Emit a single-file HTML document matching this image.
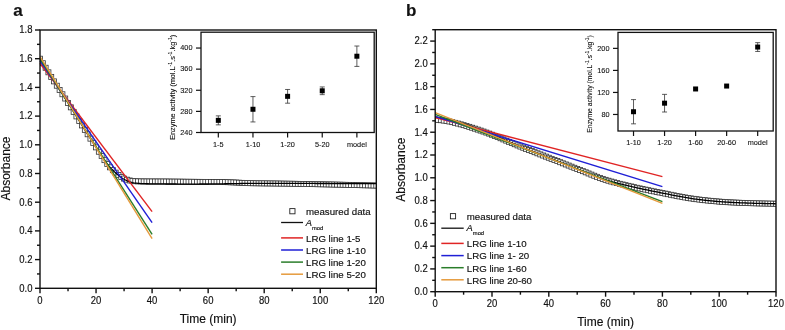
<!DOCTYPE html><html><head><meta charset="utf-8"><style>html,body{margin:0;padding:0;background:#fff;width:785px;height:330px;overflow:hidden;}svg{display:block;font-family:"Liberation Sans",sans-serif;filter:blur(0.35px);}</style></head><body><svg width="785" height="330" viewBox="0 0 785 330" font-family='"Liberation Sans", sans-serif' fill="#111">
<style>text{stroke:#111;stroke-width:0.16px;} .sm text{stroke-width:0.1px;}</style>
<rect width="785" height="330" fill="#fff"/>
<clipPath id="clipa"><rect x="40.00" y="30.00" width="336.30" height="258.30"/></clipPath>
<g clip-path="url(#clipa)">
<g fill="#fff" stroke="#333" stroke-width="0.8"><rect x="37.50" y="56.20" width="5.0" height="5.0"/><rect x="40.30" y="60.72" width="5.0" height="5.0"/><rect x="43.11" y="65.24" width="5.0" height="5.0"/><rect x="45.91" y="69.81" width="5.0" height="5.0"/><rect x="48.71" y="74.39" width="5.0" height="5.0"/><rect x="51.51" y="78.87" width="5.0" height="5.0"/><rect x="54.31" y="83.22" width="5.0" height="5.0"/><rect x="57.12" y="87.50" width="5.0" height="5.0"/><rect x="59.92" y="91.76" width="5.0" height="5.0"/><rect x="62.72" y="96.04" width="5.0" height="5.0"/><rect x="65.53" y="100.40" width="5.0" height="5.0"/><rect x="68.33" y="104.85" width="5.0" height="5.0"/><rect x="71.13" y="109.37" width="5.0" height="5.0"/><rect x="73.93" y="113.91" width="5.0" height="5.0"/><rect x="76.73" y="118.44" width="5.0" height="5.0"/><rect x="79.54" y="122.93" width="5.0" height="5.0"/><rect x="82.34" y="127.36" width="5.0" height="5.0"/><rect x="85.14" y="131.78" width="5.0" height="5.0"/><rect x="87.95" y="136.16" width="5.0" height="5.0"/><rect x="90.75" y="140.53" width="5.0" height="5.0"/><rect x="93.55" y="144.88" width="5.0" height="5.0"/><rect x="96.35" y="149.24" width="5.0" height="5.0"/><rect x="99.16" y="153.53" width="5.0" height="5.0"/><rect x="101.96" y="157.65" width="5.0" height="5.0"/><rect x="104.76" y="161.46" width="5.0" height="5.0"/><rect x="107.56" y="164.83" width="5.0" height="5.0"/><rect x="110.37" y="167.65" width="5.0" height="5.0"/><rect x="113.17" y="170.14" width="5.0" height="5.0"/><rect x="115.97" y="172.53" width="5.0" height="5.0"/><rect x="118.77" y="174.59" width="5.0" height="5.0"/><rect x="121.58" y="176.08" width="5.0" height="5.0"/><rect x="124.38" y="177.17" width="5.0" height="5.0"/><rect x="127.18" y="177.97" width="5.0" height="5.0"/><rect x="129.98" y="178.46" width="5.0" height="5.0"/><rect x="132.79" y="178.72" width="5.0" height="5.0"/><rect x="135.59" y="178.84" width="5.0" height="5.0"/><rect x="138.39" y="178.89" width="5.0" height="5.0"/><rect x="141.19" y="178.93" width="5.0" height="5.0"/><rect x="144.00" y="178.96" width="5.0" height="5.0"/><rect x="146.80" y="178.98" width="5.0" height="5.0"/><rect x="149.60" y="178.99" width="5.0" height="5.0"/><rect x="152.40" y="179.00" width="5.0" height="5.0"/><rect x="155.20" y="179.00" width="5.0" height="5.0"/><rect x="158.01" y="179.01" width="5.0" height="5.0"/><rect x="160.81" y="179.02" width="5.0" height="5.0"/><rect x="163.61" y="179.04" width="5.0" height="5.0"/><rect x="166.42" y="179.06" width="5.0" height="5.0"/><rect x="169.22" y="179.09" width="5.0" height="5.0"/><rect x="172.02" y="179.11" width="5.0" height="5.0"/><rect x="174.82" y="179.14" width="5.0" height="5.0"/><rect x="177.62" y="179.17" width="5.0" height="5.0"/><rect x="180.43" y="179.20" width="5.0" height="5.0"/><rect x="183.23" y="179.24" width="5.0" height="5.0"/><rect x="186.03" y="179.27" width="5.0" height="5.0"/><rect x="188.84" y="179.29" width="5.0" height="5.0"/><rect x="191.64" y="179.32" width="5.0" height="5.0"/><rect x="194.44" y="179.35" width="5.0" height="5.0"/><rect x="197.24" y="179.37" width="5.0" height="5.0"/><rect x="200.05" y="179.39" width="5.0" height="5.0"/><rect x="202.85" y="179.41" width="5.0" height="5.0"/><rect x="205.65" y="179.43" width="5.0" height="5.0"/><rect x="208.45" y="179.45" width="5.0" height="5.0"/><rect x="211.26" y="179.47" width="5.0" height="5.0"/><rect x="214.06" y="179.50" width="5.0" height="5.0"/><rect x="216.86" y="179.53" width="5.0" height="5.0"/><rect x="219.66" y="179.57" width="5.0" height="5.0"/><rect x="222.47" y="179.61" width="5.0" height="5.0"/><rect x="225.27" y="179.68" width="5.0" height="5.0"/><rect x="228.07" y="179.79" width="5.0" height="5.0"/><rect x="230.87" y="179.91" width="5.0" height="5.0"/><rect x="233.68" y="180.04" width="5.0" height="5.0"/><rect x="236.48" y="180.19" width="5.0" height="5.0"/><rect x="239.28" y="180.36" width="5.0" height="5.0"/><rect x="242.08" y="180.51" width="5.0" height="5.0"/><rect x="244.89" y="180.61" width="5.0" height="5.0"/><rect x="247.69" y="180.68" width="5.0" height="5.0"/><rect x="250.49" y="180.73" width="5.0" height="5.0"/><rect x="253.29" y="180.77" width="5.0" height="5.0"/><rect x="256.10" y="180.81" width="5.0" height="5.0"/><rect x="258.90" y="180.85" width="5.0" height="5.0"/><rect x="261.70" y="180.88" width="5.0" height="5.0"/><rect x="264.50" y="180.91" width="5.0" height="5.0"/><rect x="267.31" y="180.94" width="5.0" height="5.0"/><rect x="270.11" y="180.97" width="5.0" height="5.0"/><rect x="272.91" y="181.00" width="5.0" height="5.0"/><rect x="275.71" y="181.05" width="5.0" height="5.0"/><rect x="278.51" y="181.09" width="5.0" height="5.0"/><rect x="281.32" y="181.13" width="5.0" height="5.0"/><rect x="284.12" y="181.18" width="5.0" height="5.0"/><rect x="286.92" y="181.22" width="5.0" height="5.0"/><rect x="289.73" y="181.27" width="5.0" height="5.0"/><rect x="292.53" y="181.31" width="5.0" height="5.0"/><rect x="295.33" y="181.36" width="5.0" height="5.0"/><rect x="298.13" y="181.40" width="5.0" height="5.0"/><rect x="300.94" y="181.45" width="5.0" height="5.0"/><rect x="303.74" y="181.50" width="5.0" height="5.0"/><rect x="306.54" y="181.55" width="5.0" height="5.0"/><rect x="309.34" y="181.60" width="5.0" height="5.0"/><rect x="312.15" y="181.65" width="5.0" height="5.0"/><rect x="314.95" y="181.71" width="5.0" height="5.0"/><rect x="317.75" y="181.76" width="5.0" height="5.0"/><rect x="320.55" y="181.82" width="5.0" height="5.0"/><rect x="323.35" y="181.88" width="5.0" height="5.0"/><rect x="326.16" y="181.94" width="5.0" height="5.0"/><rect x="328.96" y="182.00" width="5.0" height="5.0"/><rect x="331.76" y="182.07" width="5.0" height="5.0"/><rect x="334.56" y="182.13" width="5.0" height="5.0"/><rect x="337.37" y="182.19" width="5.0" height="5.0"/><rect x="340.17" y="182.26" width="5.0" height="5.0"/><rect x="342.97" y="182.32" width="5.0" height="5.0"/><rect x="345.77" y="182.39" width="5.0" height="5.0"/><rect x="348.58" y="182.46" width="5.0" height="5.0"/><rect x="351.38" y="182.52" width="5.0" height="5.0"/><rect x="354.18" y="182.59" width="5.0" height="5.0"/><rect x="356.99" y="182.66" width="5.0" height="5.0"/><rect x="359.79" y="182.72" width="5.0" height="5.0"/><rect x="362.59" y="182.79" width="5.0" height="5.0"/><rect x="365.39" y="182.86" width="5.0" height="5.0"/><rect x="368.19" y="182.92" width="5.0" height="5.0"/><rect x="371.00" y="182.99" width="5.0" height="5.0"/><rect x="373.80" y="183.05" width="5.0" height="5.0"/></g>
<polyline points="40.00,58.70 41.40,60.96 42.80,63.22 44.20,65.48 45.61,67.74 47.01,70.02 48.41,72.31 49.81,74.61 51.21,76.89 52.61,79.15 54.01,81.37 55.41,83.56 56.81,85.72 58.22,87.86 59.62,90.00 61.02,92.13 62.42,94.26 63.82,96.39 65.22,98.54 66.62,100.71 68.03,102.90 69.43,105.11 70.83,107.35 72.23,109.60 73.63,111.87 75.03,114.14 76.43,116.41 77.83,118.68 79.23,120.94 80.64,123.19 82.04,125.43 83.44,127.65 84.84,129.86 86.24,132.07 87.64,134.28 89.04,136.47 90.45,138.66 91.85,140.85 93.25,143.03 94.65,145.21 96.05,147.38 97.45,149.56 98.85,151.74 100.25,153.90 101.66,156.03 103.06,158.12 104.46,160.15 105.86,162.10 107.26,163.94 108.66,165.68 110.06,167.33 111.46,168.86 112.87,170.29 114.27,171.63 115.67,172.93 117.07,174.18 118.47,175.37 119.87,176.49 121.27,177.52 122.67,178.44 124.08,179.27 125.48,180.01 126.88,180.68 128.28,181.27 129.68,181.78 131.08,182.21 132.48,182.54 133.88,182.81 135.29,183.03 136.69,183.21 138.09,183.36 139.49,183.47 140.89,183.55 142.29,183.60 143.69,183.65 145.09,183.70 146.50,183.74 147.90,183.77 149.30,183.80 150.70,183.83 152.10,183.85 153.50,183.87 154.90,183.89 156.30,183.91 157.70,183.92 159.11,183.93 160.51,183.94 161.91,183.95 163.31,183.96 164.71,183.97 166.11,183.98 167.51,183.98 168.92,183.99 170.32,184.00 171.72,184.01 173.12,184.01 174.52,184.02 175.92,184.02 177.32,184.03 178.72,184.03 180.12,184.04 181.53,184.04 182.93,184.04 184.33,184.04 185.73,184.04 187.13,184.05 188.53,184.04 189.93,184.04 191.34,184.04 192.74,184.04 194.14,184.04 195.54,184.03 196.94,184.03 198.34,184.03 199.74,184.02 201.14,184.01 202.55,184.01 203.95,184.00 205.35,183.99 206.75,183.98 208.15,183.98 209.55,183.96 210.95,183.95 212.35,183.94 213.76,183.92 215.16,183.91 216.56,183.89 217.96,183.87 219.36,183.85 220.76,183.83 222.16,183.81 223.56,183.78 224.97,183.76 226.37,183.74 227.77,183.71 229.17,183.69 230.57,183.66 231.97,183.64 233.37,183.62 234.77,183.59 236.18,183.57 237.58,183.55 238.98,183.53 240.38,183.51 241.78,183.49 243.18,183.47 244.58,183.45 245.98,183.44 247.39,183.42 248.79,183.41 250.19,183.40 251.59,183.39 252.99,183.38 254.39,183.38 255.79,183.37 257.19,183.37 258.60,183.36 260.00,183.36 261.40,183.36 262.80,183.35 264.20,183.35 265.60,183.35 267.00,183.35 268.40,183.35 269.81,183.36 271.21,183.36 272.61,183.36 274.01,183.36 275.41,183.36 276.81,183.37 278.21,183.37 279.61,183.37 281.01,183.38 282.42,183.38 283.82,183.38 285.22,183.39 286.62,183.39 288.02,183.39 289.42,183.40 290.82,183.40 292.23,183.40 293.63,183.40 295.03,183.41 296.43,183.41 297.83,183.41 299.23,183.42 300.63,183.42 302.03,183.43 303.44,183.43 304.84,183.43 306.24,183.44 307.64,183.44 309.04,183.45 310.44,183.45 311.84,183.46 313.24,183.46 314.65,183.47 316.05,183.48 317.45,183.48 318.85,183.49 320.25,183.49 321.65,183.50 323.05,183.50 324.45,183.51 325.85,183.51 327.26,183.52 328.66,183.52 330.06,183.53 331.46,183.54 332.86,183.54 334.26,183.55 335.66,183.55 337.06,183.55 338.47,183.56 339.87,183.56 341.27,183.57 342.67,183.57 344.07,183.58 345.47,183.58 346.87,183.59 348.27,183.59 349.68,183.60 351.08,183.60 352.48,183.61 353.88,183.61 355.28,183.62 356.68,183.62 358.08,183.63 359.49,183.63 360.89,183.64 362.29,183.64 363.69,183.65 365.09,183.65 366.49,183.66 367.89,183.66 369.29,183.66 370.69,183.67 372.10,183.67 373.50,183.68 374.90,183.68 376.30,183.69" fill="none" stroke="#000" stroke-width="1.3"/>
</g>
<line x1="40.00" y1="63.29" x2="152.10" y2="211.67" stroke="#e02424" stroke-width="1.4"/>
<line x1="40.00" y1="60.85" x2="152.10" y2="222.72" stroke="#1f1fd6" stroke-width="1.4"/>
<line x1="40.00" y1="58.70" x2="152.10" y2="234.49" stroke="#2a7d2a" stroke-width="1.4"/>
<line x1="40.00" y1="56.55" x2="152.10" y2="238.51" stroke="#e59a3c" stroke-width="1.4"/>
<rect x="40.00" y="30.00" width="336.30" height="258.30" fill="none" stroke="#111" stroke-width="1.4"/>
<line x1="35.00" y1="288.30" x2="40.00" y2="288.30" stroke="#111" stroke-width="1.4"/>
<text transform="translate(32.50,291.60) scale(0.95,1)" font-size="10.0" text-anchor="end" >0.0</text>
<line x1="37.00" y1="273.95" x2="40.00" y2="273.95" stroke="#111" stroke-width="1.4"/>
<line x1="35.00" y1="259.60" x2="40.00" y2="259.60" stroke="#111" stroke-width="1.4"/>
<text transform="translate(32.50,262.90) scale(0.95,1)" font-size="10.0" text-anchor="end" >0.2</text>
<line x1="37.00" y1="245.25" x2="40.00" y2="245.25" stroke="#111" stroke-width="1.4"/>
<line x1="35.00" y1="230.90" x2="40.00" y2="230.90" stroke="#111" stroke-width="1.4"/>
<text transform="translate(32.50,234.20) scale(0.95,1)" font-size="10.0" text-anchor="end" >0.4</text>
<line x1="37.00" y1="216.55" x2="40.00" y2="216.55" stroke="#111" stroke-width="1.4"/>
<line x1="35.00" y1="202.20" x2="40.00" y2="202.20" stroke="#111" stroke-width="1.4"/>
<text transform="translate(32.50,205.50) scale(0.95,1)" font-size="10.0" text-anchor="end" >0.6</text>
<line x1="37.00" y1="187.85" x2="40.00" y2="187.85" stroke="#111" stroke-width="1.4"/>
<line x1="35.00" y1="173.50" x2="40.00" y2="173.50" stroke="#111" stroke-width="1.4"/>
<text transform="translate(32.50,176.80) scale(0.95,1)" font-size="10.0" text-anchor="end" >0.8</text>
<line x1="37.00" y1="159.15" x2="40.00" y2="159.15" stroke="#111" stroke-width="1.4"/>
<line x1="35.00" y1="144.80" x2="40.00" y2="144.80" stroke="#111" stroke-width="1.4"/>
<text transform="translate(32.50,148.10) scale(0.95,1)" font-size="10.0" text-anchor="end" >1.0</text>
<line x1="37.00" y1="130.45" x2="40.00" y2="130.45" stroke="#111" stroke-width="1.4"/>
<line x1="35.00" y1="116.10" x2="40.00" y2="116.10" stroke="#111" stroke-width="1.4"/>
<text transform="translate(32.50,119.40) scale(0.95,1)" font-size="10.0" text-anchor="end" >1.2</text>
<line x1="37.00" y1="101.75" x2="40.00" y2="101.75" stroke="#111" stroke-width="1.4"/>
<line x1="35.00" y1="87.40" x2="40.00" y2="87.40" stroke="#111" stroke-width="1.4"/>
<text transform="translate(32.50,90.70) scale(0.95,1)" font-size="10.0" text-anchor="end" >1.4</text>
<line x1="37.00" y1="73.05" x2="40.00" y2="73.05" stroke="#111" stroke-width="1.4"/>
<line x1="35.00" y1="58.70" x2="40.00" y2="58.70" stroke="#111" stroke-width="1.4"/>
<text transform="translate(32.50,62.00) scale(0.95,1)" font-size="10.0" text-anchor="end" >1.6</text>
<line x1="37.00" y1="44.35" x2="40.00" y2="44.35" stroke="#111" stroke-width="1.4"/>
<line x1="35.00" y1="30.00" x2="40.00" y2="30.00" stroke="#111" stroke-width="1.4"/>
<text transform="translate(32.50,33.30) scale(0.95,1)" font-size="10.0" text-anchor="end" >1.8</text>
<line x1="40.00" y1="288.30" x2="40.00" y2="293.30" stroke="#111" stroke-width="1.4"/>
<text transform="translate(40.00,303.80) scale(0.95,1)" font-size="10.0" text-anchor="middle" >0</text>
<line x1="68.03" y1="288.30" x2="68.03" y2="291.30" stroke="#111" stroke-width="1.4"/>
<line x1="96.05" y1="288.30" x2="96.05" y2="293.30" stroke="#111" stroke-width="1.4"/>
<text transform="translate(96.05,303.80) scale(0.95,1)" font-size="10.0" text-anchor="middle" >20</text>
<line x1="124.08" y1="288.30" x2="124.08" y2="291.30" stroke="#111" stroke-width="1.4"/>
<line x1="152.10" y1="288.30" x2="152.10" y2="293.30" stroke="#111" stroke-width="1.4"/>
<text transform="translate(152.10,303.80) scale(0.95,1)" font-size="10.0" text-anchor="middle" >40</text>
<line x1="180.12" y1="288.30" x2="180.12" y2="291.30" stroke="#111" stroke-width="1.4"/>
<line x1="208.15" y1="288.30" x2="208.15" y2="293.30" stroke="#111" stroke-width="1.4"/>
<text transform="translate(208.15,303.80) scale(0.95,1)" font-size="10.0" text-anchor="middle" >60</text>
<line x1="236.18" y1="288.30" x2="236.18" y2="291.30" stroke="#111" stroke-width="1.4"/>
<line x1="264.20" y1="288.30" x2="264.20" y2="293.30" stroke="#111" stroke-width="1.4"/>
<text transform="translate(264.20,303.80) scale(0.95,1)" font-size="10.0" text-anchor="middle" >80</text>
<line x1="292.23" y1="288.30" x2="292.23" y2="291.30" stroke="#111" stroke-width="1.4"/>
<line x1="320.25" y1="288.30" x2="320.25" y2="293.30" stroke="#111" stroke-width="1.4"/>
<text transform="translate(320.25,303.80) scale(0.95,1)" font-size="10.0" text-anchor="middle" >100</text>
<line x1="348.27" y1="288.30" x2="348.27" y2="291.30" stroke="#111" stroke-width="1.4"/>
<line x1="376.30" y1="288.30" x2="376.30" y2="293.30" stroke="#111" stroke-width="1.4"/>
<text transform="translate(376.30,303.80) scale(0.95,1)" font-size="10.0" text-anchor="middle" >120</text>
<text x="208.15" y="322.70" font-size="12.0" text-anchor="middle" >Time (min)</text>
<text transform="translate(9.70,168.50) rotate(-90)" font-size="12.0" text-anchor="middle">Absorbance</text>
<text x="13.2" y="15.8" font-size="17" font-weight="bold">a</text>
<rect x="289.80" y="208.60" width="5.2" height="5.2" fill="#fff" stroke="#222" stroke-width="0.9"/>
<text x="306.00" y="214.50" font-size="9.7" text-anchor="start" >measured data</text>
<line x1="281.10" y1="222.50" x2="303.00" y2="222.50" stroke="#111" stroke-width="1.3"/>
<text x="305.70" y="225.50" font-size="9.3" font-style="italic">A</text>
<text x="312.00" y="230.40" font-size="5.8" text-anchor="start" >mod</text>
<line x1="281.10" y1="237.90" x2="303.00" y2="237.90" stroke="#e02424" stroke-width="1.5"/>
<text x="306.00" y="241.70" font-size="9.7" text-anchor="start" >LRG line 1-5</text>
<line x1="281.10" y1="250.00" x2="303.00" y2="250.00" stroke="#1f1fd6" stroke-width="1.5"/>
<text x="306.00" y="253.80" font-size="9.7" text-anchor="start" >LRG line 1-10</text>
<line x1="281.10" y1="262.10" x2="303.00" y2="262.10" stroke="#2a7d2a" stroke-width="1.5"/>
<text x="306.00" y="265.90" font-size="9.7" text-anchor="start" >LRG line 1-20</text>
<line x1="281.10" y1="274.20" x2="303.00" y2="274.20" stroke="#e59a3c" stroke-width="1.5"/>
<text x="306.00" y="278.00" font-size="9.7" text-anchor="start" >LRG line 5-20</text>
<clipPath id="clipb"><rect x="435.20" y="29.70" width="340.80" height="262.00"/></clipPath>
<g clip-path="url(#clipb)">
<g fill="#fff" stroke="#333" stroke-width="0.8"><rect x="432.70" y="116.96" width="5.0" height="5.0"/><rect x="435.54" y="117.35" width="5.0" height="5.0"/><rect x="438.38" y="117.71" width="5.0" height="5.0"/><rect x="441.22" y="118.08" width="5.0" height="5.0"/><rect x="444.06" y="118.50" width="5.0" height="5.0"/><rect x="446.90" y="119.01" width="5.0" height="5.0"/><rect x="449.74" y="119.63" width="5.0" height="5.0"/><rect x="452.58" y="120.32" width="5.0" height="5.0"/><rect x="455.42" y="121.07" width="5.0" height="5.0"/><rect x="458.26" y="121.85" width="5.0" height="5.0"/><rect x="461.10" y="122.66" width="5.0" height="5.0"/><rect x="463.94" y="123.49" width="5.0" height="5.0"/><rect x="466.78" y="124.35" width="5.0" height="5.0"/><rect x="469.62" y="125.24" width="5.0" height="5.0"/><rect x="472.46" y="126.16" width="5.0" height="5.0"/><rect x="475.30" y="127.10" width="5.0" height="5.0"/><rect x="478.14" y="128.07" width="5.0" height="5.0"/><rect x="480.98" y="129.05" width="5.0" height="5.0"/><rect x="483.82" y="130.07" width="5.0" height="5.0"/><rect x="486.66" y="131.12" width="5.0" height="5.0"/><rect x="489.50" y="132.23" width="5.0" height="5.0"/><rect x="492.34" y="133.37" width="5.0" height="5.0"/><rect x="495.18" y="134.54" width="5.0" height="5.0"/><rect x="498.02" y="135.73" width="5.0" height="5.0"/><rect x="500.86" y="136.92" width="5.0" height="5.0"/><rect x="503.70" y="138.13" width="5.0" height="5.0"/><rect x="506.54" y="139.33" width="5.0" height="5.0"/><rect x="509.38" y="140.54" width="5.0" height="5.0"/><rect x="512.22" y="141.73" width="5.0" height="5.0"/><rect x="515.06" y="142.91" width="5.0" height="5.0"/><rect x="517.90" y="144.07" width="5.0" height="5.0"/><rect x="520.74" y="145.22" width="5.0" height="5.0"/><rect x="523.58" y="146.35" width="5.0" height="5.0"/><rect x="526.42" y="147.47" width="5.0" height="5.0"/><rect x="529.26" y="148.59" width="5.0" height="5.0"/><rect x="532.10" y="149.70" width="5.0" height="5.0"/><rect x="534.94" y="150.81" width="5.0" height="5.0"/><rect x="537.78" y="151.91" width="5.0" height="5.0"/><rect x="540.62" y="153.02" width="5.0" height="5.0"/><rect x="543.46" y="154.12" width="5.0" height="5.0"/><rect x="546.30" y="155.24" width="5.0" height="5.0"/><rect x="549.14" y="156.36" width="5.0" height="5.0"/><rect x="551.98" y="157.47" width="5.0" height="5.0"/><rect x="554.82" y="158.59" width="5.0" height="5.0"/><rect x="557.66" y="159.71" width="5.0" height="5.0"/><rect x="560.50" y="160.83" width="5.0" height="5.0"/><rect x="563.34" y="161.95" width="5.0" height="5.0"/><rect x="566.18" y="163.07" width="5.0" height="5.0"/><rect x="569.02" y="164.18" width="5.0" height="5.0"/><rect x="571.86" y="165.29" width="5.0" height="5.0"/><rect x="574.70" y="166.40" width="5.0" height="5.0"/><rect x="577.54" y="167.52" width="5.0" height="5.0"/><rect x="580.38" y="168.66" width="5.0" height="5.0"/><rect x="583.22" y="169.81" width="5.0" height="5.0"/><rect x="586.06" y="170.97" width="5.0" height="5.0"/><rect x="588.90" y="172.11" width="5.0" height="5.0"/><rect x="591.74" y="173.24" width="5.0" height="5.0"/><rect x="594.58" y="174.33" width="5.0" height="5.0"/><rect x="597.42" y="175.39" width="5.0" height="5.0"/><rect x="600.26" y="176.39" width="5.0" height="5.0"/><rect x="603.10" y="177.34" width="5.0" height="5.0"/><rect x="605.94" y="178.22" width="5.0" height="5.0"/><rect x="608.78" y="179.05" width="5.0" height="5.0"/><rect x="611.62" y="179.84" width="5.0" height="5.0"/><rect x="614.46" y="180.58" width="5.0" height="5.0"/><rect x="617.30" y="181.30" width="5.0" height="5.0"/><rect x="620.14" y="181.99" width="5.0" height="5.0"/><rect x="622.98" y="182.66" width="5.0" height="5.0"/><rect x="625.82" y="183.32" width="5.0" height="5.0"/><rect x="628.66" y="183.97" width="5.0" height="5.0"/><rect x="631.50" y="184.63" width="5.0" height="5.0"/><rect x="634.34" y="185.28" width="5.0" height="5.0"/><rect x="637.18" y="185.91" width="5.0" height="5.0"/><rect x="640.02" y="186.52" width="5.0" height="5.0"/><rect x="642.86" y="187.12" width="5.0" height="5.0"/><rect x="645.70" y="187.71" width="5.0" height="5.0"/><rect x="648.54" y="188.29" width="5.0" height="5.0"/><rect x="651.38" y="188.86" width="5.0" height="5.0"/><rect x="654.22" y="189.42" width="5.0" height="5.0"/><rect x="657.06" y="189.99" width="5.0" height="5.0"/><rect x="659.90" y="190.55" width="5.0" height="5.0"/><rect x="662.74" y="191.12" width="5.0" height="5.0"/><rect x="665.58" y="191.69" width="5.0" height="5.0"/><rect x="668.42" y="192.27" width="5.0" height="5.0"/><rect x="671.26" y="192.84" width="5.0" height="5.0"/><rect x="674.10" y="193.40" width="5.0" height="5.0"/><rect x="676.94" y="193.95" width="5.0" height="5.0"/><rect x="679.78" y="194.48" width="5.0" height="5.0"/><rect x="682.62" y="194.98" width="5.0" height="5.0"/><rect x="685.46" y="195.46" width="5.0" height="5.0"/><rect x="688.30" y="195.91" width="5.0" height="5.0"/><rect x="691.14" y="196.32" width="5.0" height="5.0"/><rect x="693.98" y="196.71" width="5.0" height="5.0"/><rect x="696.82" y="197.07" width="5.0" height="5.0"/><rect x="699.66" y="197.42" width="5.0" height="5.0"/><rect x="702.50" y="197.74" width="5.0" height="5.0"/><rect x="705.34" y="198.05" width="5.0" height="5.0"/><rect x="708.18" y="198.33" width="5.0" height="5.0"/><rect x="711.02" y="198.60" width="5.0" height="5.0"/><rect x="713.86" y="198.85" width="5.0" height="5.0"/><rect x="716.70" y="199.09" width="5.0" height="5.0"/><rect x="719.54" y="199.32" width="5.0" height="5.0"/><rect x="722.38" y="199.51" width="5.0" height="5.0"/><rect x="725.22" y="199.69" width="5.0" height="5.0"/><rect x="728.06" y="199.85" width="5.0" height="5.0"/><rect x="730.90" y="199.99" width="5.0" height="5.0"/><rect x="733.74" y="200.12" width="5.0" height="5.0"/><rect x="736.58" y="200.24" width="5.0" height="5.0"/><rect x="739.42" y="200.36" width="5.0" height="5.0"/><rect x="742.26" y="200.47" width="5.0" height="5.0"/><rect x="745.10" y="200.58" width="5.0" height="5.0"/><rect x="747.94" y="200.68" width="5.0" height="5.0"/><rect x="750.78" y="200.76" width="5.0" height="5.0"/><rect x="753.62" y="200.84" width="5.0" height="5.0"/><rect x="756.46" y="200.91" width="5.0" height="5.0"/><rect x="759.30" y="200.97" width="5.0" height="5.0"/><rect x="762.14" y="201.02" width="5.0" height="5.0"/><rect x="764.98" y="201.08" width="5.0" height="5.0"/><rect x="767.82" y="201.14" width="5.0" height="5.0"/><rect x="770.66" y="201.19" width="5.0" height="5.0"/><rect x="773.50" y="201.26" width="5.0" height="5.0"/></g>
<polyline points="435.20,117.41 436.62,117.69 438.04,117.97 439.46,118.24 440.88,118.51 442.30,118.78 443.72,119.06 445.14,119.34 446.56,119.63 447.98,119.94 449.40,120.26 450.82,120.60 452.24,120.94 453.66,121.29 455.08,121.65 456.50,122.02 457.92,122.40 459.34,122.79 460.76,123.19 462.18,123.60 463.60,124.02 465.02,124.45 466.44,124.90 467.86,125.35 469.28,125.82 470.70,126.30 472.12,126.78 473.54,127.28 474.96,127.78 476.38,128.29 477.80,128.80 479.22,129.33 480.64,129.86 482.06,130.40 483.48,130.95 484.90,131.50 486.32,132.07 487.74,132.64 489.16,133.21 490.58,133.80 492.00,134.39 493.42,134.98 494.84,135.58 496.26,136.19 497.68,136.80 499.10,137.41 500.52,138.02 501.94,138.64 503.36,139.26 504.78,139.88 506.20,140.50 507.62,141.12 509.04,141.74 510.46,142.36 511.88,142.97 513.30,143.58 514.72,144.19 516.14,144.80 517.56,145.39 518.98,145.99 520.40,146.57 521.82,147.16 523.24,147.73 524.66,148.30 526.08,148.87 527.50,149.44 528.92,150.00 530.34,150.56 531.76,151.11 533.18,151.67 534.60,152.22 536.02,152.77 537.44,153.32 538.86,153.87 540.28,154.42 541.70,154.97 543.12,155.52 544.54,156.07 545.96,156.63 547.38,157.18 548.80,157.74 550.22,158.30 551.64,158.86 553.06,159.41 554.48,159.97 555.90,160.53 557.32,161.09 558.74,161.65 560.16,162.21 561.58,162.77 563.00,163.33 564.42,163.89 565.84,164.45 567.26,165.01 568.68,165.57 570.10,166.13 571.52,166.68 572.94,167.24 574.36,167.79 575.78,168.35 577.20,168.90 578.62,169.46 580.04,170.02 581.46,170.59 582.88,171.16 584.30,171.74 585.72,172.31 587.14,172.89 588.56,173.47 589.98,174.04 591.40,174.61 592.82,175.18 594.24,175.74 595.66,176.29 597.08,176.83 598.50,177.37 599.92,177.89 601.34,178.40 602.76,178.89 604.18,179.37 605.60,179.84 607.02,180.29 608.44,180.72 609.86,181.14 611.28,181.55 612.70,181.95 614.12,182.34 615.54,182.71 616.96,183.08 618.38,183.44 619.80,183.80 621.22,184.14 622.64,184.49 624.06,184.82 625.48,185.16 626.90,185.49 628.32,185.82 629.74,186.14 631.16,186.47 632.58,186.80 634.00,187.13 635.42,187.46 636.84,187.78 638.26,188.10 639.68,188.41 641.10,188.72 642.52,189.02 643.94,189.32 645.36,189.62 646.78,189.92 648.20,190.21 649.62,190.50 651.04,190.79 652.46,191.07 653.88,191.36 655.30,191.64 656.72,191.92 658.14,192.21 659.56,192.49 660.98,192.77 662.40,193.05 663.82,193.33 665.24,193.62 666.66,193.91 668.08,194.19 669.50,194.48 670.92,194.77 672.34,195.05 673.76,195.34 675.18,195.62 676.60,195.90 678.02,196.17 679.44,196.45 680.86,196.71 682.28,196.98 683.70,197.23 685.12,197.48 686.54,197.72 687.96,197.96 689.38,198.19 690.80,198.41 692.22,198.62 693.64,198.82 695.06,199.02 696.48,199.21 697.90,199.39 699.32,199.57 700.74,199.75 702.16,199.92 703.58,200.08 705.00,200.24 706.42,200.40 707.84,200.55 709.26,200.69 710.68,200.83 712.10,200.97 713.52,201.10 714.94,201.23 716.36,201.35 717.78,201.48 719.20,201.59 720.62,201.71 722.04,201.82 723.46,201.92 724.88,202.01 726.30,202.10 727.72,202.19 729.14,202.27 730.56,202.35 731.98,202.42 733.40,202.49 734.82,202.56 736.24,202.62 737.66,202.68 739.08,202.74 740.50,202.80 741.92,202.86 743.34,202.91 744.76,202.97 746.18,203.02 747.60,203.08 749.02,203.13 750.44,203.18 751.86,203.22 753.28,203.26 754.70,203.30 756.12,203.34 757.54,203.37 758.96,203.41 760.38,203.44 761.80,203.47 763.22,203.50 764.64,203.52 766.06,203.55 767.48,203.58 768.90,203.61 770.32,203.64 771.74,203.66 773.16,203.69 774.58,203.73 776.00,203.76" fill="none" stroke="#000" stroke-width="1.3"/>
</g>
<line x1="435.20" y1="117.64" x2="662.40" y2="176.65" stroke="#e02424" stroke-width="1.4"/>
<line x1="435.20" y1="116.39" x2="662.40" y2="186.67" stroke="#1f1fd6" stroke-width="1.4"/>
<line x1="435.20" y1="114.45" x2="662.40" y2="201.71" stroke="#2a7d2a" stroke-width="1.4"/>
<line x1="435.20" y1="112.63" x2="662.40" y2="203.30" stroke="#e59a3c" stroke-width="1.4"/>
<rect x="435.20" y="29.70" width="340.80" height="262.00" fill="none" stroke="#111" stroke-width="1.4"/>
<line x1="430.20" y1="291.70" x2="435.20" y2="291.70" stroke="#111" stroke-width="1.4"/>
<text transform="translate(427.70,295.00) scale(0.95,1)" font-size="10.0" text-anchor="end" >0.0</text>
<line x1="432.20" y1="280.31" x2="435.20" y2="280.31" stroke="#111" stroke-width="1.4"/>
<line x1="430.20" y1="268.92" x2="435.20" y2="268.92" stroke="#111" stroke-width="1.4"/>
<text transform="translate(427.70,272.22) scale(0.95,1)" font-size="10.0" text-anchor="end" >0.2</text>
<line x1="432.20" y1="257.53" x2="435.20" y2="257.53" stroke="#111" stroke-width="1.4"/>
<line x1="430.20" y1="246.13" x2="435.20" y2="246.13" stroke="#111" stroke-width="1.4"/>
<text transform="translate(427.70,249.43) scale(0.95,1)" font-size="10.0" text-anchor="end" >0.4</text>
<line x1="432.20" y1="234.74" x2="435.20" y2="234.74" stroke="#111" stroke-width="1.4"/>
<line x1="430.20" y1="223.35" x2="435.20" y2="223.35" stroke="#111" stroke-width="1.4"/>
<text transform="translate(427.70,226.65) scale(0.95,1)" font-size="10.0" text-anchor="end" >0.6</text>
<line x1="432.20" y1="211.96" x2="435.20" y2="211.96" stroke="#111" stroke-width="1.4"/>
<line x1="430.20" y1="200.57" x2="435.20" y2="200.57" stroke="#111" stroke-width="1.4"/>
<text transform="translate(427.70,203.87) scale(0.95,1)" font-size="10.0" text-anchor="end" >0.8</text>
<line x1="432.20" y1="189.18" x2="435.20" y2="189.18" stroke="#111" stroke-width="1.4"/>
<line x1="430.20" y1="177.79" x2="435.20" y2="177.79" stroke="#111" stroke-width="1.4"/>
<text transform="translate(427.70,181.09) scale(0.95,1)" font-size="10.0" text-anchor="end" >1.0</text>
<line x1="432.20" y1="166.40" x2="435.20" y2="166.40" stroke="#111" stroke-width="1.4"/>
<line x1="430.20" y1="155.00" x2="435.20" y2="155.00" stroke="#111" stroke-width="1.4"/>
<text transform="translate(427.70,158.30) scale(0.95,1)" font-size="10.0" text-anchor="end" >1.2</text>
<line x1="432.20" y1="143.61" x2="435.20" y2="143.61" stroke="#111" stroke-width="1.4"/>
<line x1="430.20" y1="132.22" x2="435.20" y2="132.22" stroke="#111" stroke-width="1.4"/>
<text transform="translate(427.70,135.52) scale(0.95,1)" font-size="10.0" text-anchor="end" >1.4</text>
<line x1="432.20" y1="120.83" x2="435.20" y2="120.83" stroke="#111" stroke-width="1.4"/>
<line x1="430.20" y1="109.44" x2="435.20" y2="109.44" stroke="#111" stroke-width="1.4"/>
<text transform="translate(427.70,112.74) scale(0.95,1)" font-size="10.0" text-anchor="end" >1.6</text>
<line x1="432.20" y1="98.05" x2="435.20" y2="98.05" stroke="#111" stroke-width="1.4"/>
<line x1="430.20" y1="86.66" x2="435.20" y2="86.66" stroke="#111" stroke-width="1.4"/>
<text transform="translate(427.70,89.96) scale(0.95,1)" font-size="10.0" text-anchor="end" >1.8</text>
<line x1="432.20" y1="75.27" x2="435.20" y2="75.27" stroke="#111" stroke-width="1.4"/>
<line x1="430.20" y1="63.87" x2="435.20" y2="63.87" stroke="#111" stroke-width="1.4"/>
<text transform="translate(427.70,67.17) scale(0.95,1)" font-size="10.0" text-anchor="end" >2.0</text>
<line x1="432.20" y1="52.48" x2="435.20" y2="52.48" stroke="#111" stroke-width="1.4"/>
<line x1="430.20" y1="41.09" x2="435.20" y2="41.09" stroke="#111" stroke-width="1.4"/>
<text transform="translate(427.70,44.39) scale(0.95,1)" font-size="10.0" text-anchor="end" >2.2</text>
<line x1="432.20" y1="29.70" x2="435.20" y2="29.70" stroke="#111" stroke-width="1.4"/>
<line x1="435.20" y1="291.70" x2="435.20" y2="296.70" stroke="#111" stroke-width="1.4"/>
<text transform="translate(435.20,307.20) scale(0.95,1)" font-size="10.0" text-anchor="middle" >0</text>
<line x1="463.60" y1="291.70" x2="463.60" y2="294.70" stroke="#111" stroke-width="1.4"/>
<line x1="492.00" y1="291.70" x2="492.00" y2="296.70" stroke="#111" stroke-width="1.4"/>
<text transform="translate(492.00,307.20) scale(0.95,1)" font-size="10.0" text-anchor="middle" >20</text>
<line x1="520.40" y1="291.70" x2="520.40" y2="294.70" stroke="#111" stroke-width="1.4"/>
<line x1="548.80" y1="291.70" x2="548.80" y2="296.70" stroke="#111" stroke-width="1.4"/>
<text transform="translate(548.80,307.20) scale(0.95,1)" font-size="10.0" text-anchor="middle" >40</text>
<line x1="577.20" y1="291.70" x2="577.20" y2="294.70" stroke="#111" stroke-width="1.4"/>
<line x1="605.60" y1="291.70" x2="605.60" y2="296.70" stroke="#111" stroke-width="1.4"/>
<text transform="translate(605.60,307.20) scale(0.95,1)" font-size="10.0" text-anchor="middle" >60</text>
<line x1="634.00" y1="291.70" x2="634.00" y2="294.70" stroke="#111" stroke-width="1.4"/>
<line x1="662.40" y1="291.70" x2="662.40" y2="296.70" stroke="#111" stroke-width="1.4"/>
<text transform="translate(662.40,307.20) scale(0.95,1)" font-size="10.0" text-anchor="middle" >80</text>
<line x1="690.80" y1="291.70" x2="690.80" y2="294.70" stroke="#111" stroke-width="1.4"/>
<line x1="719.20" y1="291.70" x2="719.20" y2="296.70" stroke="#111" stroke-width="1.4"/>
<text transform="translate(719.20,307.20) scale(0.95,1)" font-size="10.0" text-anchor="middle" >100</text>
<line x1="747.60" y1="291.70" x2="747.60" y2="294.70" stroke="#111" stroke-width="1.4"/>
<line x1="776.00" y1="291.70" x2="776.00" y2="296.70" stroke="#111" stroke-width="1.4"/>
<text transform="translate(776.00,307.20) scale(0.95,1)" font-size="10.0" text-anchor="middle" >120</text>
<text x="605.60" y="326.40" font-size="12.0" text-anchor="middle" >Time (min)</text>
<text transform="translate(404.60,169.70) rotate(-90)" font-size="12.0" text-anchor="middle">Absorbance</text>
<text x="406.0" y="15.8" font-size="17" font-weight="bold">b</text>
<rect x="450.40" y="213.60" width="5.2" height="5.2" fill="#fff" stroke="#222" stroke-width="0.9"/>
<text x="466.80" y="219.50" font-size="9.7" text-anchor="start" >measured data</text>
<line x1="441.30" y1="228.20" x2="463.70" y2="228.20" stroke="#111" stroke-width="1.3"/>
<text x="466.50" y="231.20" font-size="9.3" font-style="italic">A</text>
<text x="472.80" y="234.90" font-size="5.8" text-anchor="start" >mod</text>
<line x1="441.30" y1="243.40" x2="463.70" y2="243.40" stroke="#e02424" stroke-width="1.5"/>
<text x="466.80" y="247.20" font-size="9.7" text-anchor="start" >LRG line 1-10</text>
<line x1="441.30" y1="255.60" x2="463.70" y2="255.60" stroke="#1f1fd6" stroke-width="1.5"/>
<text x="466.80" y="259.40" font-size="9.7" text-anchor="start" >LRG line 1- 20</text>
<line x1="441.30" y1="267.70" x2="463.70" y2="267.70" stroke="#2a7d2a" stroke-width="1.5"/>
<text x="466.80" y="271.50" font-size="9.7" text-anchor="start" >LRG line 1-60</text>
<line x1="441.30" y1="279.80" x2="463.70" y2="279.80" stroke="#e59a3c" stroke-width="1.5"/>
<text x="466.80" y="283.60" font-size="9.7" text-anchor="start" >LRG line 20-60</text>
<g class="sm">
<rect x="201.00" y="32.20" width="173.20" height="100.30" fill="#fff" stroke="#111" stroke-width="1.3"/>
<line x1="196.00" y1="132.50" x2="201.00" y2="132.50" stroke="#111" stroke-width="1.2"/>
<text x="192.50" y="134.80" font-size="7.3" text-anchor="end" >240</text>
<line x1="196.00" y1="111.38" x2="201.00" y2="111.38" stroke="#111" stroke-width="1.2"/>
<text x="192.50" y="113.68" font-size="7.3" text-anchor="end" >280</text>
<line x1="196.00" y1="90.27" x2="201.00" y2="90.27" stroke="#111" stroke-width="1.2"/>
<text x="192.50" y="92.57" font-size="7.3" text-anchor="end" >320</text>
<line x1="196.00" y1="69.15" x2="201.00" y2="69.15" stroke="#111" stroke-width="1.2"/>
<text x="192.50" y="71.45" font-size="7.3" text-anchor="end" >360</text>
<line x1="196.00" y1="48.04" x2="201.00" y2="48.04" stroke="#111" stroke-width="1.2"/>
<text x="192.50" y="50.34" font-size="7.3" text-anchor="end" >400</text>
<line x1="218.32" y1="132.50" x2="218.32" y2="137.50" stroke="#111" stroke-width="1.2"/>
<text x="218.32" y="146.50" font-size="7.3" text-anchor="middle" >1-5</text>
<line x1="252.96" y1="132.50" x2="252.96" y2="137.50" stroke="#111" stroke-width="1.2"/>
<text x="252.96" y="146.50" font-size="7.3" text-anchor="middle" >1-10</text>
<line x1="287.60" y1="132.50" x2="287.60" y2="137.50" stroke="#111" stroke-width="1.2"/>
<text x="287.60" y="146.50" font-size="7.3" text-anchor="middle" >1-20</text>
<line x1="322.24" y1="132.50" x2="322.24" y2="137.50" stroke="#111" stroke-width="1.2"/>
<text x="322.24" y="146.50" font-size="7.3" text-anchor="middle" >5-20</text>
<line x1="356.88" y1="132.50" x2="356.88" y2="137.50" stroke="#111" stroke-width="1.2"/>
<text x="356.88" y="146.50" font-size="7.3" text-anchor="middle" >model</text>
<line x1="218.32" y1="115.87" x2="218.32" y2="124.85" stroke="#333" stroke-width="0.8"/>
<line x1="215.82" y1="115.87" x2="220.82" y2="115.87" stroke="#333" stroke-width="0.8"/>
<line x1="215.82" y1="124.85" x2="220.82" y2="124.85" stroke="#333" stroke-width="0.8"/>
<rect x="215.82" y="117.86" width="5" height="5" fill="#000"/>
<line x1="252.96" y1="96.60" x2="252.96" y2="121.94" stroke="#333" stroke-width="0.8"/>
<line x1="250.46" y1="96.60" x2="255.46" y2="96.60" stroke="#333" stroke-width="0.8"/>
<line x1="250.46" y1="121.94" x2="255.46" y2="121.94" stroke="#333" stroke-width="0.8"/>
<rect x="250.46" y="106.77" width="5" height="5" fill="#000"/>
<line x1="287.60" y1="89.48" x2="287.60" y2="103.20" stroke="#333" stroke-width="0.8"/>
<line x1="285.10" y1="89.48" x2="290.10" y2="89.48" stroke="#333" stroke-width="0.8"/>
<line x1="285.10" y1="103.20" x2="290.10" y2="103.20" stroke="#333" stroke-width="0.8"/>
<rect x="285.10" y="93.84" width="5" height="5" fill="#000"/>
<line x1="322.24" y1="86.94" x2="322.24" y2="94.65" stroke="#333" stroke-width="0.8"/>
<line x1="319.74" y1="86.94" x2="324.74" y2="86.94" stroke="#333" stroke-width="0.8"/>
<line x1="319.74" y1="94.65" x2="324.74" y2="94.65" stroke="#333" stroke-width="0.8"/>
<rect x="319.74" y="88.30" width="5" height="5" fill="#000"/>
<line x1="356.88" y1="46.03" x2="356.88" y2="66.41" stroke="#333" stroke-width="0.8"/>
<line x1="354.38" y1="46.03" x2="359.38" y2="46.03" stroke="#333" stroke-width="0.8"/>
<line x1="354.38" y1="66.41" x2="359.38" y2="66.41" stroke="#333" stroke-width="0.8"/>
<rect x="354.38" y="53.72" width="5" height="5" fill="#000"/>
<text transform="translate(175.00,87.30) rotate(-90)" font-size="7.35" text-anchor="middle">Enzyme activity (mol.L<tspan dy="-2.79" font-size="5.14">-1</tspan><tspan dy="2.79">.s</tspan><tspan dy="-2.79" font-size="5.14">-1</tspan><tspan dy="2.79">.kg</tspan><tspan dy="-2.79" font-size="5.14">-1</tspan><tspan dy="2.79">)</tspan></text>
</g>
<g class="sm">
<rect x="618.00" y="32.40" width="155.20" height="98.60" fill="#fff" stroke="#111" stroke-width="1.3"/>
<line x1="613.00" y1="114.47" x2="618.00" y2="114.47" stroke="#111" stroke-width="1.2"/>
<text x="609.50" y="116.77" font-size="7.3" text-anchor="end" >80</text>
<line x1="613.00" y1="92.44" x2="618.00" y2="92.44" stroke="#111" stroke-width="1.2"/>
<text x="609.50" y="94.74" font-size="7.3" text-anchor="end" >120</text>
<line x1="613.00" y1="70.41" x2="618.00" y2="70.41" stroke="#111" stroke-width="1.2"/>
<text x="609.50" y="72.71" font-size="7.3" text-anchor="end" >160</text>
<line x1="613.00" y1="48.37" x2="618.00" y2="48.37" stroke="#111" stroke-width="1.2"/>
<text x="609.50" y="50.67" font-size="7.3" text-anchor="end" >200</text>
<line x1="633.52" y1="131.00" x2="633.52" y2="136.00" stroke="#111" stroke-width="1.2"/>
<text x="633.52" y="145.00" font-size="7.3" text-anchor="middle" >1-10</text>
<line x1="664.56" y1="131.00" x2="664.56" y2="136.00" stroke="#111" stroke-width="1.2"/>
<text x="664.56" y="145.00" font-size="7.3" text-anchor="middle" >1-20</text>
<line x1="695.60" y1="131.00" x2="695.60" y2="136.00" stroke="#111" stroke-width="1.2"/>
<text x="695.60" y="145.00" font-size="7.3" text-anchor="middle" >1-60</text>
<line x1="726.64" y1="131.00" x2="726.64" y2="136.00" stroke="#111" stroke-width="1.2"/>
<text x="726.64" y="145.00" font-size="7.3" text-anchor="middle" >20-60</text>
<line x1="757.68" y1="131.00" x2="757.68" y2="136.00" stroke="#111" stroke-width="1.2"/>
<text x="757.68" y="145.00" font-size="7.3" text-anchor="middle" >model</text>
<line x1="633.52" y1="99.60" x2="633.52" y2="123.84" stroke="#333" stroke-width="0.8"/>
<line x1="631.02" y1="99.60" x2="636.02" y2="99.60" stroke="#333" stroke-width="0.8"/>
<line x1="631.02" y1="123.84" x2="636.02" y2="123.84" stroke="#333" stroke-width="0.8"/>
<rect x="631.02" y="109.22" width="5" height="5" fill="#000"/>
<line x1="664.56" y1="94.37" x2="664.56" y2="112.00" stroke="#333" stroke-width="0.8"/>
<line x1="662.06" y1="94.37" x2="667.06" y2="94.37" stroke="#333" stroke-width="0.8"/>
<line x1="662.06" y1="112.00" x2="667.06" y2="112.00" stroke="#333" stroke-width="0.8"/>
<rect x="662.06" y="100.68" width="5" height="5" fill="#000"/>
<rect x="693.10" y="86.47" width="5" height="5" fill="#000"/>
<rect x="724.14" y="83.55" width="5" height="5" fill="#000"/>
<line x1="757.68" y1="42.65" x2="757.68" y2="51.46" stroke="#333" stroke-width="0.8"/>
<line x1="755.18" y1="42.65" x2="760.18" y2="42.65" stroke="#333" stroke-width="0.8"/>
<line x1="755.18" y1="51.46" x2="760.18" y2="51.46" stroke="#333" stroke-width="0.8"/>
<rect x="755.18" y="44.55" width="5" height="5" fill="#000"/>
<text transform="translate(591.90,84.00) rotate(-90)" font-size="6.8" text-anchor="middle">Enzyme activity (mol.L<tspan dy="-2.58" font-size="4.76">-1</tspan><tspan dy="2.58">.s</tspan><tspan dy="-2.58" font-size="4.76">-1</tspan><tspan dy="2.58">.kg</tspan><tspan dy="-2.58" font-size="4.76">-1</tspan><tspan dy="2.58">)</tspan></text>
</g>
</svg></body></html>
